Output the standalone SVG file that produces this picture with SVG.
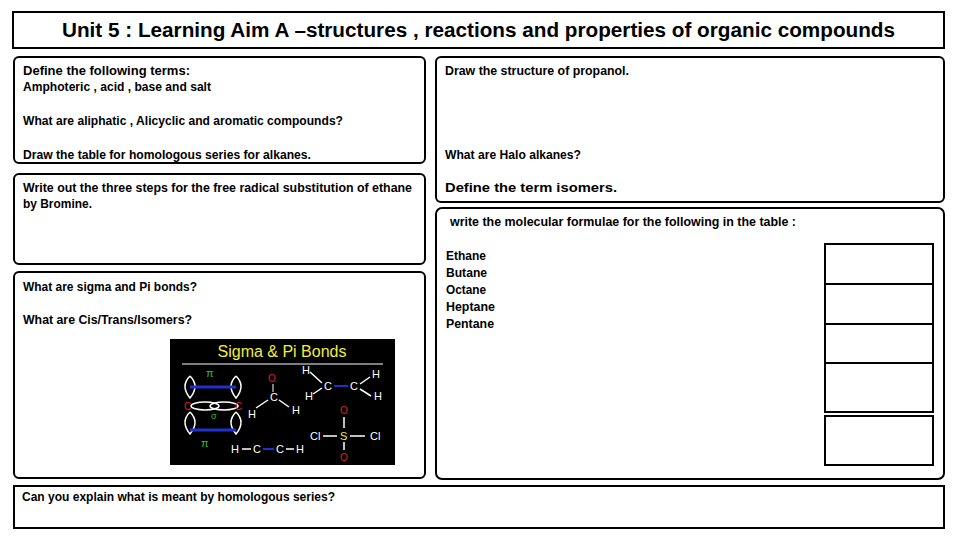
<svg xmlns="http://www.w3.org/2000/svg" width="960" height="540" viewBox="0 0 960 540">
<style>
.b{fill:#fff;stroke:#000;stroke-width:2}
.t{font-family:"Liberation Sans",Arial,sans-serif;font-size:12.5px;fill:#000;font-weight:600}
.w{fill:none;stroke:#fff;stroke-width:1.5}
.m{font-family:"Liberation Sans",Arial,sans-serif;font-size:11px;fill:#fff}
</style>
<rect width="960" height="540" fill="#fff"/>
<g id="title"><rect class="b" x="13" y="12" width="931" height="36"/>
<text x="62" y="37" font-family="Liberation Sans,Arial,sans-serif" font-size="20" font-weight="600" textLength="833" lengthAdjust="spacingAndGlyphs">Unit 5 : Learning Aim A –structures , reactions and properties of organic compounds</text></g>
<g id="boxA"><rect class="b" x="14" y="57" width="411" height="106" rx="5"/>
<text class="t" x="23" y="75" textLength="167" lengthAdjust="spacingAndGlyphs">Define the following terms:</text>
<text class="t" x="23" y="91" textLength="188" lengthAdjust="spacingAndGlyphs">Amphoteric , acid , base and salt</text>
<text class="t" x="23" y="125" textLength="320" lengthAdjust="spacingAndGlyphs">What are aliphatic , Alicyclic and aromatic compounds?</text>
<text class="t" x="23" y="159" textLength="288" lengthAdjust="spacingAndGlyphs">Draw the table for homologous series for alkanes.</text></g>
<g id="boxB"><rect class="b" x="14" y="174" width="411" height="90" rx="5"/>
<text class="t" x="23" y="192" textLength="389" lengthAdjust="spacingAndGlyphs">Write out the three steps for the free radical substitution of ethane</text>
<text class="t" x="23" y="208" textLength="69" lengthAdjust="spacingAndGlyphs">by Bromine.</text></g>
<g id="boxC"><rect class="b" x="14" y="272" width="411" height="206" rx="5"/>
<text class="t" x="23" y="291" textLength="174" lengthAdjust="spacingAndGlyphs">What are sigma and Pi bonds?</text>
<text class="t" x="23" y="324" textLength="169" lengthAdjust="spacingAndGlyphs">What are Cis/Trans/Isomers?</text>
<g id="picture">
<rect x="170" y="339" width="225" height="126" fill="#000"/>
<text x="282" y="357" text-anchor="middle" font-family="Liberation Sans,Arial,sans-serif" font-size="16" fill="#f2ee3a">Sigma &amp; Pi Bonds</text>
<line x1="182" y1="364" x2="383" y2="364" stroke="#fff"/>
<path class="w" d="M190 376 q-10 10 0 22 q10 -12 0 -22 M236 376 q-10 10 0 22 q10 -12 0 -22 M190 412 q-10 10 0 22 q10 -12 0 -22 M236 412 q-10 10 0 22 q10 -12 0 -22"/>
<ellipse cx="205" cy="406" rx="14" ry="4" class="w"/><ellipse cx="224" cy="406" rx="14" ry="4" class="w"/>
<line x1="190" y1="387" x2="236" y2="387" stroke="#2030d0" stroke-width="3"/>
<line x1="190" y1="430" x2="236" y2="430" stroke="#2030d0" stroke-width="3"/>
<text x="184" y="410" font-family="Liberation Sans,sans-serif" font-size="10" fill="#e02020">C</text>
<text x="235" y="410" font-family="Liberation Sans,sans-serif" font-size="10" fill="#e02020">C</text>
<text x="211" y="419" font-family="Liberation Sans,sans-serif" font-size="9" fill="#30c030">σ</text>
<text x="206" y="377" font-family="Liberation Sans,sans-serif" font-size="11" fill="#30c030">π</text>
<text x="201" y="447" font-family="Liberation Sans,sans-serif" font-size="11" fill="#30c030">π</text>
<text x="268" y="382" font-family="Liberation Sans,sans-serif" font-size="10" fill="#e02020">O</text>
<line x1="273" y1="384" x2="273" y2="392" stroke="#fff"/>
<text class="m" x="270" y="401">C</text><text class="m" x="248" y="418">H</text><text class="m" x="292" y="414">H</text>
<path class="w" d="M268 400 L256 408 M279 400 L289 407"/>
<text class="m" x="302" y="374">H</text><text class="m" x="305" y="400">H</text><text class="m" x="324" y="390">C</text><text class="m" x="350" y="390">C</text><text class="m" x="372" y="378">H</text><text class="m" x="374" y="400">H</text>
<path class="w" d="M310 372 L322 383 M313 394 L322 388 M360 384 L370 377 M360 389 L371 396"/>
<line x1="334" y1="386" x2="348" y2="386" stroke="#2030d0" stroke-width="2"/>
<text x="340" y="414" font-family="Liberation Sans,sans-serif" font-size="10" fill="#e02020">O</text>
<text class="m" x="310" y="440">Cl</text><text class="m" x="340" y="440" style="fill:#f2ee3a">S</text><text class="m" x="370" y="440">Cl</text>
<path class="w" d="M323 436 L337 436 M350 436 L365 436 M344 417 L344 428 M344 442 L344 450"/>
<text x="340" y="461" font-family="Liberation Sans,sans-serif" font-size="10" fill="#e02020">O</text>
<text class="m" x="231" y="453">H</text><text class="m" x="253" y="453">C</text><text class="m" x="276" y="453">C</text><text class="m" x="296" y="453">H</text>
<path class="w" d="M242 449 L251 449 M286 449 L294 449"/>
<line x1="263" y1="449" x2="274" y2="449" stroke="#2030d0" stroke-width="2"/>
</g></g>
<g id="boxD"><rect class="b" x="14" y="486" width="930" height="42"/>
<text class="t" x="22" y="501" textLength="313" lengthAdjust="spacingAndGlyphs">Can you explain what is meant by homologous series?</text></g>
<g id="boxE"><rect class="b" x="436" y="57" width="508" height="145" rx="5"/>
<text class="t" x="445" y="75" textLength="184" lengthAdjust="spacingAndGlyphs">Draw the structure of propanol.</text>
<text class="t" x="445" y="159" textLength="136" lengthAdjust="spacingAndGlyphs">What are Halo alkanes?</text>
<text class="t" x="445" y="192" textLength="172" lengthAdjust="spacingAndGlyphs">Define the term isomers.</text></g>
<g id="boxF"><rect class="b" x="436" y="208" width="508" height="271" rx="6"/>
<text class="t" x="450" y="226" textLength="346" lengthAdjust="spacingAndGlyphs">write the molecular formulae for the following in the table :</text>
<text class="t" x="446" y="260" textLength="40" lengthAdjust="spacingAndGlyphs">Ethane</text><text class="t" x="446" y="277" textLength="41" lengthAdjust="spacingAndGlyphs">Butane</text><text class="t" x="446" y="294" textLength="40" lengthAdjust="spacingAndGlyphs">Octane</text><text class="t" x="446" y="311" textLength="49" lengthAdjust="spacingAndGlyphs">Heptane</text><text class="t" x="446" y="328" textLength="48" lengthAdjust="spacingAndGlyphs">Pentane</text>
<rect class="b" x="825" y="244" width="108" height="40"/>
<rect class="b" x="825" y="284" width="108" height="40"/>
<rect class="b" x="825" y="324" width="108" height="39"/>
<rect class="b" x="825" y="363" width="108" height="49"/>
<rect class="b" x="825" y="416" width="108" height="49"/></g>
</svg>
